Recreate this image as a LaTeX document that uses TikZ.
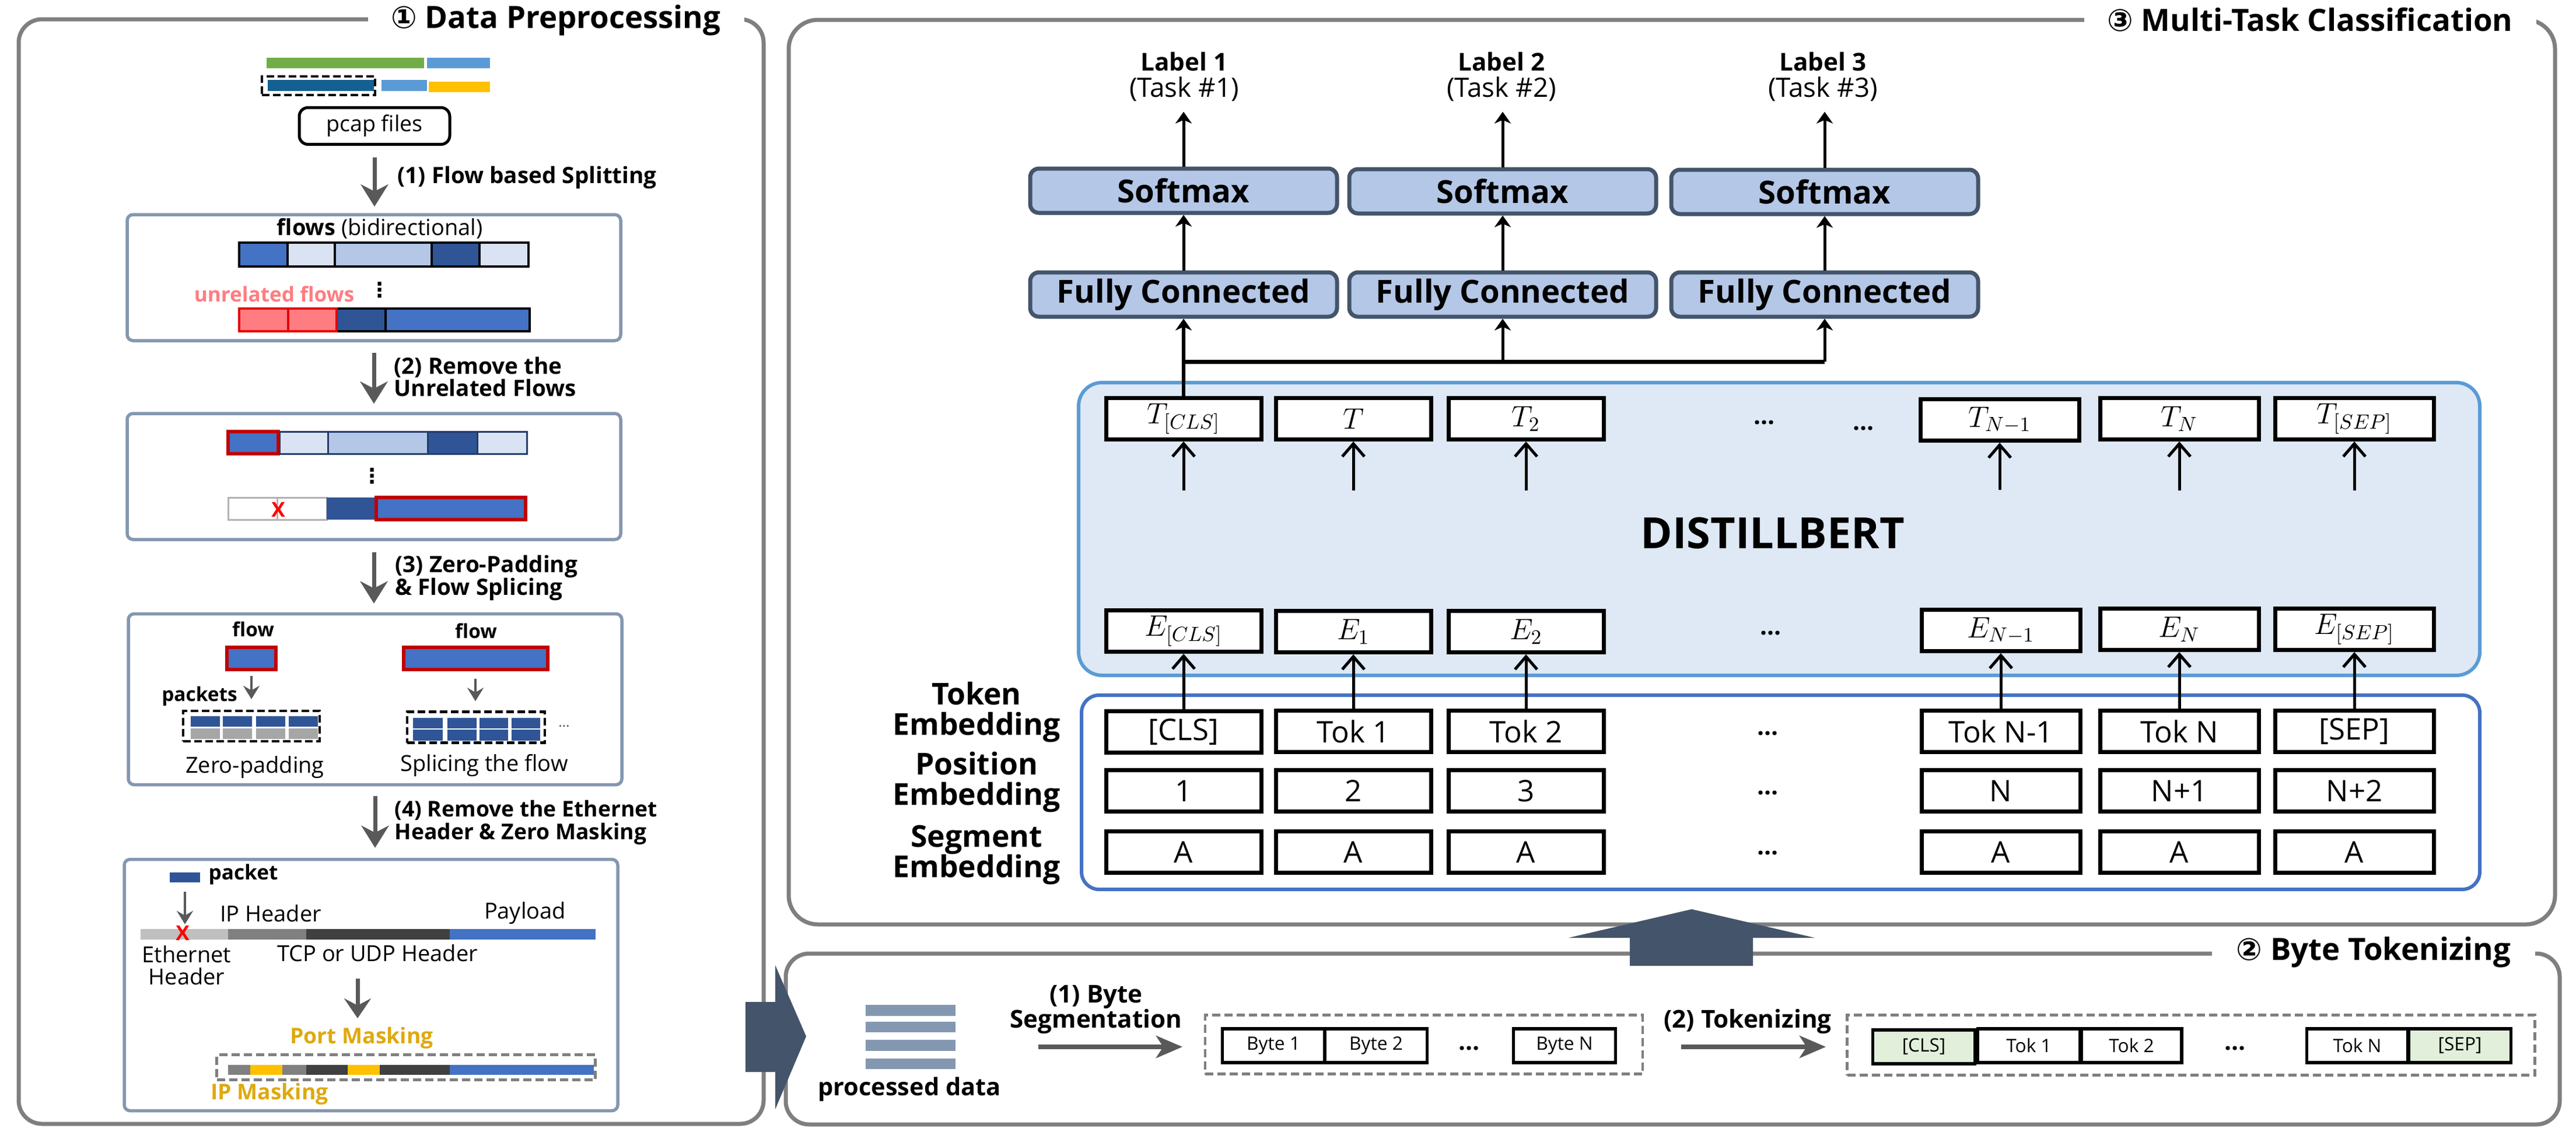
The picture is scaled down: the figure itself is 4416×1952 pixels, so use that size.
\documentclass[tikz,border=0pt]{standalone}
\usepackage{amsmath}
\usepackage{fontspec}
\setmainfont{Open Sans}
\newfontfamily\symfont{DejaVu Sans}
\usetikzlibrary{positioning}
\usetikzlibrary{calc}
\usetikzlibrary{arrows.meta}

\definecolor{panelgray}{HTML}{7F7F7F}
\definecolor{boxblue}{HTML}{8497B0}
\definecolor{arrowgray}{HTML}{595959}
\definecolor{slate}{HTML}{44546A}
\definecolor{softblue}{HTML}{B4C7E7}
\definecolor{paleblue}{HTML}{DAE3F3}
\definecolor{midblue}{HTML}{4472C4}
\definecolor{deepblue}{HTML}{2F5597}
\definecolor{skyblue}{HTML}{5B9BD5}
\definecolor{seablue}{HTML}{156092}
\definecolor{leafgreen}{HTML}{70AD47}
\definecolor{bertfill}{HTML}{DEE9F5}
\definecolor{pinkred}{HTML}{FF7C80}
\definecolor{darkred}{HTML}{C00000}
\definecolor{amber}{HTML}{FFC000}
\definecolor{amberink}{HTML}{DFA90E}
\definecolor{cellgreen}{HTML}{E2EFDA}

\tikzset{
  panel/.style={draw=panelgray, line width=0.7mm, rounded corners=4mm},
  paneltitle/.style={fill=white, inner sep=0pt, font=\fontsize{15}{17}\selectfont\bfseries},
  stepbox/.style={draw=boxblue, line width=0.55mm, rounded corners=1mm, minimum width=84.6mm, inner sep=0pt},
  steplabel/.style={anchor=west, align=left, inner sep=0pt, font=\fontsize{11}{11}\selectfont\bfseries},
  thintext/.style={inner sep=0pt, align=center, font=\fontsize{10.8}{10.8}\selectfont},
  boldtext/.style={inner sep=0pt, align=center, font=\fontsize{9.5}{10.5}\selectfont\bfseries},
  masktext/.style={inner sep=0pt, text=amberink, font=\fontsize{10.6}{12}\selectfont\bfseries},
  flowcell/.style={draw=black, line width=0.4mm},
  plaincell/.style={line width=0.3mm, draw=#1},
  redcell/.style={draw=darkred, line width=0.6mm, fill=midblue},
  redflow/.style={redcell, minimum height=3.8mm, inner sep=0pt},
  dashblack/.style={draw=black, line width=0.45mm, dash pattern=on 1.3mm off 0.6mm, inner sep=0pt},
  dashgray/.style={draw=panelgray, line width=0.45mm, dash pattern=on 1.4mm off 0.7mm, inner sep=0pt},
  headbox/.style={draw=slate, fill=softblue, line width=0.7mm, rounded corners=1.5mm, minimum width=52.6mm,
    minimum height=7.6mm, inner sep=0pt, font=\fontsize{15.5}{17}\selectfont\bfseries},
  tokcell/.style={draw=black, fill=white, line width=0.7mm, minimum width=26.6mm, minimum height=7.1mm,
    inner sep=0pt, font=\fontsize{14.5}{16}\selectfont},
  wideTok/.style={tokcell, minimum width=27.2mm},
  mathcell/.style={font=\fontsize{14.4}{16}\selectfont},
  bytecell/.style={draw=black, fill=white, line width=0.55mm, minimum width=17.5mm, minimum height=5.8mm,
    inner sep=0pt, font=\fontsize{9}{11}\selectfont},
  rowlabel/.style={inner sep=0pt, align=center, font=\fontsize{14.7}{15}\selectfont\bfseries},
  stagelabel/.style={inner sep=0pt, align=center, font=\fontsize{12}{12.5}\selectfont\bfseries},
  moredots/.style={inner sep=0pt, font=\fontsize{12}{14}\selectfont\bfseries},
  greyarrow/.style={-{Stealth[length=3.8mm,width=4.7mm,inset=1.2mm]}, draw=arrowgray, line width=0.7mm},
  thinarrow/.style={-{Stealth[length=2.3mm,width=2.8mm,inset=0.8mm]}, draw=arrowgray, line width=0.4mm},
  heavyarrow/.style={-{Stealth[length=4.5mm,width=3.8mm,inset=1.2mm]}, draw=arrowgray, line width=0.8mm},
  tiparrow/.style={-{Stealth[length=2mm,width=2.8mm,inset=0.6mm]}, draw=black, line width=0.5mm},
  barbarrow/.style={-{Straight Barb[length=2.2mm,width=3.8mm]}, draw=black, line width=0.5mm},
}

\begin{document}
\begin{tikzpicture}[x=0.1mm, y=-0.1mm]

\pgfmathsetmacro{\TSK}{47}
\pgfmathsetmacro{\BRB}{84}

\useasboundingbox (0, 0) rectangle (4416, 1952);

\draw [panel] (32, 33) rectangle (1309, 1927);
\draw [panel, rounded corners=5mm] (1352, 34) rectangle (4380, 1585);
\draw [panel] (1347, 1635) rectangle (4388, 1928);

\node [paneltitle, minimum width=64.5mm] (title1) at (953, 35) {{\symfont ①} Data Preprocessing};
\node [paneltitle, minimum width=77.5mm] (title3) at (3960, 34) {{\symfont ③} Multi-Task Classification};
\node [paneltitle, minimum width=55.4mm] (title2) at (4069, 1633) {{\symfont ②} Byte Tokenizing};

\fill [leafgreen] (457, 99) rectangle (727, 117);
\fill [skyblue] (732, 99) rectangle (840, 117);
\fill [seablue] (459, 137) rectangle (641, 156);
\fill [skyblue] (654, 137) rectangle (732, 156);
\fill [amber] (735, 140) rectangle (840, 158);
\node [dashblack, minimum width=19.4mm, minimum height=3.2mm] (pickbox) at (546, 147) {};
\node [draw, line width=0.5mm, rounded corners=1.5mm, minimum width=25.8mm, minimum height=6.3mm, inner sep=0pt,
  font=\fontsize{10.7}{12}\selectfont] (pcap) at (642, 216) {pcap files};

\node [stepbox, minimum height=21.6mm] (box1) at (641, 476) {};
\node [stepbox, minimum height=21.6mm] (box2) at (641, 817) {};
\node [stepbox, minimum height=29.3mm] (box3) at (643, 1199) {};
\node [stepbox, minimum height=43.1mm] (box4) at (636, 1689) {};

\draw [greyarrow, shorten <=2mm, shorten >=1.1mm] (pcap.south) -- (pcap.south |- box1.north);
\draw [greyarrow, shorten <=1.8mm, shorten >=1.4mm] (box1.south) -- (box1.south |- box2.north);
\draw [greyarrow, shorten <=1.9mm, shorten >=1.5mm] (box2.south) -- (box2.south |- box3.north);
\draw [greyarrow, shorten <=1.7mm, shorten >=1.7mm] (box3.south) -- (box3.south |- box4.north);

\node [steplabel] (step1) at (681, 304) {(1) Flow based Splitting};
\node [steplabel] (step2) at (675, 646) {(2) Remove the\\Unrelated Flows};
\node [steplabel] (step3) at (677, 991) {(3) Zero-Padding\\\& Flow Splicing};
\node [steplabel, font=\fontsize{10.6}{11}\selectfont\bfseries] (step4) at (676, 1410) {(4) Remove the Ethernet\\Header \& Zero Masking};

\node [thintext] (flowstxt) at (651, 392) {\textbf{flows} (bidirectional)};
\draw [flowcell, fill=midblue] (410, 416) rectangle (493, 457);
\draw [flowcell, fill=paleblue] (493, 416) rectangle (574, 457);
\draw [flowcell, fill=softblue] (574, 416) rectangle (740, 457);
\draw [flowcell, fill=deepblue] (740, 416) rectangle (822, 457);
\draw [flowcell, fill=paleblue] (822, 416) rectangle (906, 457);
\node [inner sep=0pt, font=\fontsize{10}{12}\selectfont\symfont\bfseries] (dots1) at (651, 497) {⋮};
\node [inner sep=0pt, text=pinkred, font=\fontsize{10}{12}\selectfont\bfseries] (unrel) at (470, 504) {unrelated flows};
\draw [flowcell, fill=deepblue] (577, 529) rectangle (661, 568);
\draw [flowcell, fill=midblue] (661, 529) rectangle (908, 568);
\draw [line width=0.4mm, draw=red!90!black, fill=pinkred] (410, 529) rectangle (494, 568);
\draw [line width=0.4mm, draw=red!90!black, fill=pinkred] (494, 529) rectangle (577, 568);

\draw [plaincell=deepblue!70!black, fill=paleblue] (479, 740) rectangle (562, 778);
\draw [plaincell=deepblue!70!black, fill=softblue] (562, 740) rectangle (733, 778);
\draw [plaincell=deepblue!70!black, fill=deepblue] (733, 740) rectangle (818, 778);
\draw [plaincell=deepblue!70!black, fill=paleblue] (818, 740) rectangle (903, 778);
\draw [redcell] (391, 740) rectangle (477, 778);
\node [inner sep=0pt, font=\fontsize{10}{12}\selectfont\symfont\bfseries] (dots2) at (638, 816) {⋮};
\draw [plaincell=black!30, fill=white] (391, 853) rectangle (475, 891);
\draw [plaincell=black!30, fill=white] (475, 853) rectangle (560, 891);
\fill [deepblue] (560, 853) rectangle (645, 891);
\draw [redcell] (645, 853) rectangle (901, 891);
\node [inner sep=0pt, text=red, font=\fontsize{10}{12}\selectfont\bfseries] (cross1) at (477, 874) {X};

\node [boldtext] (flowa) at (434, 1079) {flow};
\node [boldtext] (flowb) at (816, 1082) {flow};
\node [redflow, minimum width=8.4mm] (flowc) at (431, 1129) {};
\node [redflow, minimum width=24.7mm] (flowd) at (815, 1129) {};
\node [boldtext] (pktsa) at (342, 1194) {packets};
\node [dashblack, minimum width=23.4mm, minimum height=5.2mm] (padbox) at (431, 1245) {};
\node [dashblack, minimum width=23.6mm, minimum height=5.3mm] (splbox) at (816, 1247) {};
\draw [thinarrow, shorten <=0.8mm, shorten >=1.8mm] (flowc.south) -- (flowc.south |- padbox.north);
\draw [thinarrow, shorten <=1.3mm, shorten >=1.6mm] (flowd.south) -- (flowd.south |- splbox.north);

\fill [deepblue] (327, 1228) rectangle (377, 1246);
\fill [deepblue] (382, 1228) rectangle (432, 1246);
\fill [deepblue] (439, 1228) rectangle (489, 1246);
\fill [deepblue] (495, 1228) rectangle (545, 1246);
\fill [black!35] (327, 1249) rectangle (377, 1267);
\fill [black!35] (382, 1249) rectangle (432, 1267);
\fill [black!35] (439, 1249) rectangle (489, 1267);
\fill [black!35] (495, 1249) rectangle (545, 1267);

\fill [deepblue] (708, 1231) rectangle (759, 1249);
\fill [deepblue] (767, 1231) rectangle (817, 1249);
\fill [deepblue] (822, 1231) rectangle (871, 1249);
\fill [deepblue] (877, 1231) rectangle (926, 1249);
\fill [deepblue] (708, 1251) rectangle (759, 1270);
\fill [deepblue] (767, 1251) rectangle (817, 1270);
\fill [deepblue] (822, 1251) rectangle (871, 1270);
\fill [deepblue] (877, 1251) rectangle (926, 1270);
\node [inner sep=0pt, text=arrowgray, font=\fontsize{7}{8}\selectfont] (dots3) at (967, 1245) {…};

\node [thintext] (zerotxt) at (437, 1316) {Zero-padding};
\node [thintext] (spltxt) at (830, 1313) {Splicing the flow};

\node [fill=deepblue, minimum width=5.2mm, minimum height=1.7mm, inner sep=0pt] (pkt) at (317, 1504) {};
\node [boldtext, anchor=west, font=\fontsize{10}{11}\selectfont\bfseries] (pkttxt) at (357, 1499) {packet};
\node [thintext] (iptxt) at (464, 1566) {IP Header};
\node [thintext] (paytxt) at (900, 1566) {Payload};
\fill [black!25] (241, 1593) rectangle (391, 1611);
\fill [black!50] (391, 1593) rectangle (525, 1611);
\fill [black!75] (525, 1593) rectangle (771, 1611);
\fill [midblue] (771, 1593) rectangle (1021, 1611);
\node [inner sep=0pt, text=red, font=\fontsize{10}{10}\selectfont\bfseries] (cross2) at (313, 1600) {X};
\draw [thinarrow, shorten <=1.6mm, shorten >=0.2mm] (pkt.south) -- (pkt.south |- cross2.north);
\node [thintext] (ethtxt) at (320, 1655) {Ethernet\\Header};
\node [thintext] (tcptxt) at (647, 1634) {TCP or UDP Header};
\coordinate (maska) at (613, 1678);
\coordinate (maskb) at (613, 1746);
\draw [greyarrow, -{Stealth[length=3.4mm,width=4.6mm,inset=1.2mm]}] (maska) -- (maskb);
\node [masktext] (porttxt) at (620, 1780) {Port Masking};
\node [dashgray, minimum width=64.9mm, minimum height=4.3mm] (maskbox) at (696, 1830) {};
\fill [black!50] (391, 1826) rectangle (429, 1843);
\fill [amber] (429, 1826) rectangle (484, 1843);
\fill [black!50] (484, 1826) rectangle (525, 1843);
\fill [black!75] (525, 1826) rectangle (596, 1843);
\fill [amber] (596, 1826) rectangle (651, 1843);
\fill [black!75] (651, 1826) rectangle (771, 1843);
\fill [midblue] (771, 1826) rectangle (1018, 1843);
\node [masktext] (iptxtb) at (462, 1876) {IP Masking};

\node [fill=bertfill, draw=skyblue, line width=0.6mm, rounded corners=4mm, minimum width=240.2mm, minimum height=50.2mm,
  inner sep=0pt] (bert) at (3050, 907) {};
\node [draw=midblue, line width=0.6mm, rounded corners=3mm, minimum width=239.7mm, minimum height=33.3mm,
  inner sep=0pt] (embbox) at (3052.5, 1358.5) {};

\node [headbox] (sm1) at (2029, 327) {Softmax};
\node [headbox] (sm2) at (2576, 328) {Softmax};
\node [headbox] (sm3) at (3128, 329) {Softmax};
\node [headbox] (fc1) at (2029, 505) {Fully Connected};
\node [headbox] (fc2) at (2576, 505) {Fully Connected};
\node [headbox] (fc3) at (3128, 505) {Fully Connected};

\node [inner sep=0pt, font=\fontsize{12}{14}\selectfont\bfseries] (lab1) at (2030, 106) {Label 1};
\node [inner sep=0pt, font=\fontsize{13}{15}\selectfont] (task1) at ($(lab1) + (0, \TSK)$) {(Task \#1)};
\node [inner sep=0pt, font=\fontsize{12}{14}\selectfont\bfseries] (lab2) at (2574, 106) {Label 2};
\node [inner sep=0pt, font=\fontsize{13}{15}\selectfont] (task2) at ($(lab2) + (0, \TSK)$) {(Task \#2)};
\node [inner sep=0pt, font=\fontsize{12}{14}\selectfont\bfseries] (lab3) at (3125, 106) {Label 3};
\node [inner sep=0pt, font=\fontsize{13}{15}\selectfont] (task3) at ($(lab3) + (0, \TSK)$) {(Task \#3)};

\draw [tiparrow, shorten >=1.7mm] (sm1.north) -- (sm1.north |- task1.south);
\draw [tiparrow, shorten >=1.7mm] (sm2.north) -- (sm2.north |- task2.south);
\draw [tiparrow, shorten >=1.7mm] (sm3.north) -- (sm3.north |- task3.south);
\draw [tiparrow] (fc1.north) -- (sm1.south);
\draw [tiparrow] (fc2.north) -- (sm2.south);
\draw [tiparrow] (fc3.north) -- (fc3.north |- sm3.south);

\node [tokcell, mathcell] (t1) at (2029, 718) {$T_{[CLS]}$};
\node [tokcell, mathcell] (t2) at (2320, 718) {$T$};
\node [tokcell, mathcell] (t3) at (2616, 718) {$T_{2}$};
\node [wideTok, mathcell] (t4) at (3428, 720) {$T_{N-1}$};
\node [wideTok, mathcell] (t5) at (3736, 718) {$T_{N}$};
\node [wideTok, mathcell] (t6) at (4036, 718) {$T_{[SEP]}$};

\coordinate (busa) at (2029, 620);
\coordinate (busb) at (2576, 620);
\coordinate (busc) at (3128, 620);
\draw [tiparrow, line width=0.6mm] (t1.north) -- (fc1.south);
\draw [draw=black, line width=0.7mm] (busa) -- (busc);
\draw [tiparrow] (busb) -- (busb |- fc2.south);
\draw [tiparrow] (busc) -- (busc |- fc3.south);

\node [tokcell, mathcell] (e1) at (2029, 1082) {$E_{[CLS]}$};
\node [tokcell, mathcell] (e2) at (2320, 1083) {$E_{1}$};
\node [tokcell, mathcell] (e3) at (2616, 1083) {$E_{2}$};
\node [wideTok, mathcell] (e4) at (3430, 1081) {$E_{N-1}$};
\node [wideTok, mathcell] (e5) at (3736, 1079) {$E_{N}$};
\node [wideTok, mathcell] (e6) at (4036, 1079) {$E_{[SEP]}$};

\node [tokcell] (k1) at (2029, 1255) {[CLS]};
\node [tokcell] (k2) at (2320, 1254) {Tok 1};
\node [tokcell] (k3) at (2616, 1254) {Tok 2};
\node [wideTok] (k4) at (3430, 1254) {Tok N-1};
\node [wideTok] (k5) at (3736, 1254) {Tok N};
\node [wideTok] (k6) at (4036, 1254) {[SEP]};

\node [tokcell] (p1) at (2029, 1356) {1};
\node [tokcell] (p2) at (2320, 1356) {2};
\node [tokcell] (p3) at (2616, 1356) {3};
\node [wideTok] (p4) at (3430, 1356) {N};
\node [wideTok] (p5) at (3736, 1356) {N+1};
\node [wideTok] (p6) at (4036, 1356) {N+2};

\node [tokcell] (s1) at (2029, 1461) {A};
\node [tokcell] (s2) at (2320, 1461) {A};
\node [tokcell] (s3) at (2616, 1461) {A};
\node [wideTok] (s4) at (3430, 1461) {A};
\node [wideTok] (s5) at (3736, 1461) {A};
\node [wideTok] (s6) at (4036, 1461) {A};

\draw [barbarrow] (k1.north) -- (e1.south);
\draw [barbarrow] (k2.north) -- (e2.south);
\draw [barbarrow] (k3.north) -- (e3.south);
\draw [barbarrow] (k4.north) -- (e4.south);
\draw [barbarrow] (k5.north) -- (e5.south);
\draw [barbarrow] (k6.north) -- (e6.south);

\coordinate (in1) at ($(t1.south) + (0, \BRB)$);
\coordinate (in2) at ($(t2.south) + (0, \BRB)$);
\coordinate (in3) at ($(t3.south) + (0, \BRB)$);
\coordinate (in4) at ($(t4.south) + (0, \BRB-3)$);
\coordinate (in5) at ($(t5.south) + (0, \BRB)$);
\coordinate (in6) at ($(t6.south) + (0, \BRB)$);
\draw [barbarrow] (in1) -- (t1.south);
\draw [barbarrow] (in2) -- (t2.south);
\draw [barbarrow] (in3) -- (t3.south);
\draw [barbarrow] (in4) -- (t4.south);
\draw [barbarrow] (in5) -- (t5.south);
\draw [barbarrow] (in6) -- (t6.south);

\node [inner sep=0pt, font=\fontsize{21}{23}\selectfont\bfseries] (berttxt) at (3039, 914) {DISTILLBERT};

\node [moredots] (dta) at (3024, 725) {…};
\node [moredots] (dtb) at (3194, 735) {…};
\node [moredots] (dtc) at (3035, 1086) {…};
\node [moredots] (dtd) at (3030, 1258) {…};
\node [moredots] (dte) at (3030, 1360) {…};
\node [moredots] (dtf) at (3030, 1463) {…};

\node [rowlabel] (rowa) at (1674, 1221) {Token\\Embedding};
\node [rowlabel] (rowb) at (1674, 1341) {Position\\Embedding};
\node [rowlabel] (rowc) at (1674, 1466) {Segment\\Embedding};

\fill [slate] (2794, 1656) -- (2794, 1608) -- (2689, 1608) -- (2900, 1559) -- (3111, 1608) -- (3005, 1608) -- (3005, 1656) -- cycle;
\fill [slate] (1278, 1718) -- (1329, 1718) -- (1329, 1655) -- (1382, 1777) -- (1329, 1902) -- (1329, 1838) -- (1278, 1838) -- cycle;

\fill [boxblue] (1484, 1723) rectangle (1638, 1742);
\fill [boxblue] (1484, 1752) rectangle (1638, 1770);
\fill [boxblue] (1484, 1783) rectangle (1638, 1802);
\fill [boxblue] (1484, 1815) rectangle (1638, 1833);
\node [stagelabel, font=\fontsize{11.8}{13}\selectfont\bfseries] (proc) at (1559, 1868) {processed data};

\node [stagelabel] (segtxt) at (1879, 1731) {(1) Byte\\Segmentation};
\coordinate (sega) at (1780, 1795);
\coordinate (segb) at (2027, 1795);
\draw [heavyarrow] (sega) -- (segb);

\node [dashgray, minimum width=75mm, minimum height=10.1mm] (bytebox) at (2441, 1791) {};
\node [bytecell] (b1) at (2183, 1793) {Byte 1};
\node [bytecell] (b2) at (2359, 1793) {Byte 2};
\node [moredots] (dtg) at (2518, 1798) {…};
\node [bytecell] (b3) at (2682, 1793) {Byte N};

\node [stagelabel] (toktxt) at (2996, 1752) {(2) Tokenizing};
\coordinate (toka) at (2882, 1795);
\coordinate (tokb) at (3130, 1795);
\draw [heavyarrow] (toka) -- (tokb);

\node [dashgray, minimum width=117.9mm, minimum height=10.3mm] (tokbox) at (3756, 1792) {};
\node [bytecell, fill=cellgreen] (c1) at (3298, 1795) {[CLS]};
\node [bytecell] (c2) at (3478, 1793) {Tok 1};
\node [bytecell, minimum width=17.2mm] (c3) at (3654, 1793) {Tok 2};
\node [moredots] (dth) at (3831, 1798) {…};
\node [bytecell, minimum width=17.3mm] (c4) at (4041, 1793) {Tok N};
\node [bytecell, fill=cellgreen] (c5) at (4217, 1793) {[SEP]};

\end{tikzpicture}
\end{document}
